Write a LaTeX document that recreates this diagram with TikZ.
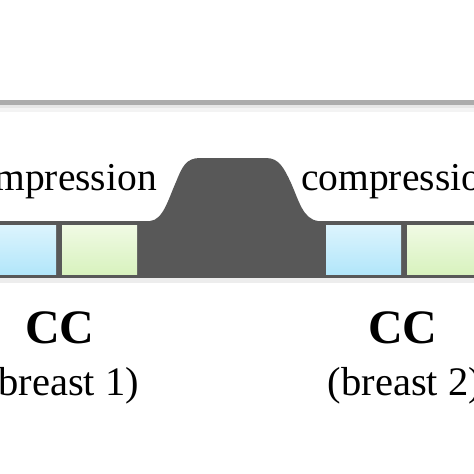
\documentclass[tikz,border=0pt]{standalone}
\usepackage{fontspec}
\setmainfont{Liberation Serif}
\definecolor{darkstrip}{HTML}{585858}
\definecolor{rulegray}{HTML}{ABABAB}
\definecolor{shadowgray}{HTML}{E6E6E6}
\definecolor{bluetop}{HTML}{DCF4FD}
\definecolor{bluebot}{HTML}{B2E6FA}
\definecolor{greentop}{HTML}{F0FAE4}
\definecolor{greenbot}{HTML}{D8F2BE}
\tikzset{
  bluebox/.style={top color=bluetop, bottom color=bluebot, draw=none},
  greenbox/.style={top color=greentop, bottom color=greenbot, draw=none},
  lbl/.style={inner sep=0pt, font=\fontsize{39.5}{40}\selectfont},
  brlbl/.style={inner sep=0pt, font=\fontsize{40.5}{42}\selectfont},
  cclbl/.style={inner sep=0pt, font=\fontsize{48}{50}\selectfont\bfseries},
}
\begin{document}
\begin{tikzpicture}[x=1pt,y=-1pt]
\useasboundingbox (0,0) rectangle (474,474);
\fill[white] (0,0) rectangle (474,474);
% top rule with shadow
\fill[shadowgray!50] (0,104) rectangle (474,112);
\fill[shadowgray] (0,104) rectangle (474,108);
\fill[rulegray] (0,99.5) rectangle (474,105);
% strip shadow
\fill[shadowgray!70] (0,277) rectangle (474,283);
% dark strip
\fill[darkstrip] (0,221) rectangle (474,278);
% bump
\fill[darkstrip] (138,222) -- (150,221) .. controls (163,220) and (168,200) .. (176,182)
  .. controls (182,167) and (186,158) .. (200,158) -- (266,158)
  .. controls (279,158) and (284,168) .. (291,183)
  .. controls (299,201) and (303,219) .. (318,221) -- (323,222) -- (323,240) -- (138,240) -- cycle;
% boxes
\node[bluebox, inner sep=0pt, minimum width=58pt, minimum height=49pt, anchor=north west] (b1) at (-2,225) {};
\node[greenbox, inner sep=0pt, minimum width=75pt, minimum height=49pt, anchor=north west] (g1) at (62,225) {};
\node[bluebox, inner sep=0pt, minimum width=75pt, minimum height=49pt, anchor=north west] (b2) at (326,225) {};
\node[greenbox, inner sep=0pt, minimum width=70pt, minimum height=49pt, anchor=north west] (g2) at (407,225) {};
% labels
\node[lbl, anchor=base east] (c1) at (157,190) {compression};
\node[lbl, anchor=base west] (c2) at (301,190) {compression};
\node[cclbl, anchor=base] (cc1) at (60,343) {CC};
\node[cclbl, anchor=base] (cc2) at (403,343) {CC};
\node[brlbl, anchor=base] (br1) at (62,395) {(breast 1)};
\node[brlbl, anchor=base] (br2) at (405,395) {(breast 2)};
\end{tikzpicture}
\end{document}
